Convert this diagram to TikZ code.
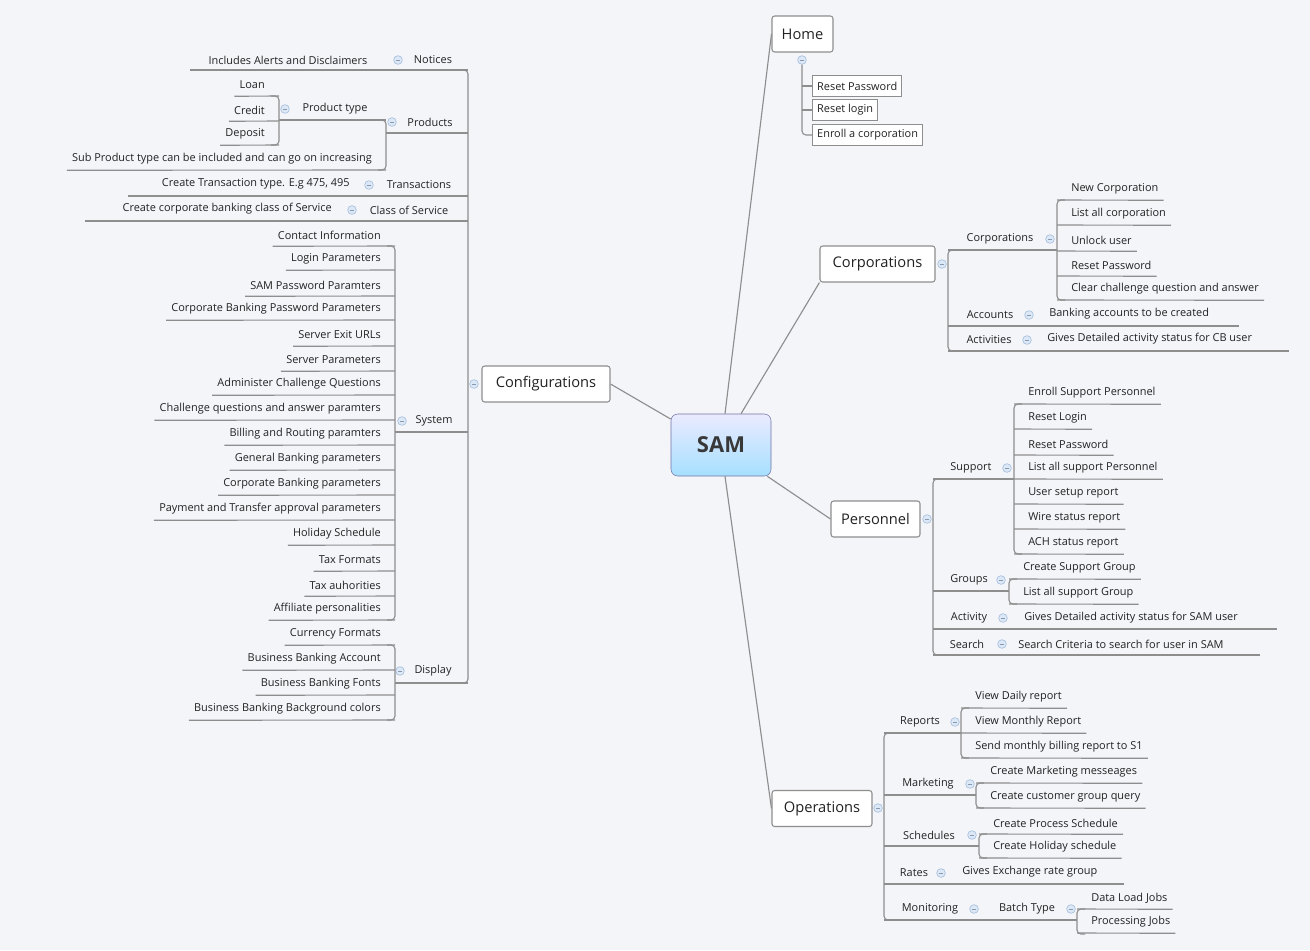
\documentclass[tikz,border=0pt]{standalone}
\usepackage{fontspec}
\setmainfont{Open Sans}
\definecolor{bg}{HTML}{F3F5F9}
\definecolor{lnc}{HTML}{8E8E8E}
\definecolor{txc}{HTML}{222222}
\definecolor{mkd}{HTML}{A9C0DE}
\definecolor{mkf}{HTML}{DDE8F6}
\tikzset{
  ln/.style={draw=lnc,line width=0.85pt},
  tx/.style={inner sep=0pt,text=txc,font=\fontsize{8.2}{10}\selectfont},
  lf/.style={inner xsep=3.75pt,inner ysep=0pt,minimum height=16.5pt,text=txc,font=\fontsize{8.2}{10}\selectfont},
  topic/.style={draw=lnc,fill=white,rounded corners=2pt,line width=0.8pt,minimum height=27pt,text=txc,font=\fontsize{11}{13}\selectfont,inner xsep=4pt},
  hb/.style={draw=lnc,fill=white,line width=0.8pt,minimum height=15.8pt,inner xsep=3.5pt,inner ysep=0pt,anchor=west,text=txc,font=\fontsize{8.2}{10}\selectfont},
  mk/.style={circle,draw=mkd,fill=mkf,minimum size=6.5pt,inner sep=0pt,line width=0.5pt,
    path picture={\draw[mkd!80!black,line width=0.5pt] ([xshift=-1.6pt]path picture bounding box.center) -- ([xshift=1.6pt]path picture bounding box.center);}}
}
\newcommand\lfR[4]{\node[lf,anchor=west] (#1) at ({#2+9},#3) {#4}; \draw[ln] ({#2},{#3+11}) -- (#1.south east);}
\newcommand\lfL[4]{\node[lf,anchor=east] (#1) at ({#2-9},#3) {#4}; \draw[ln] ({#2},{#3+11}) -- (#1.south west);}
\newcommand\brkR[3]{\draw[ln,rounded corners=3pt] ({#1+8},#2) -- (#1,#2) -- (#1,#3) -- ({#1+8},#3);}
\newcommand\brkL[3]{\draw[ln,rounded corners=3pt] ({#1-8},#2) -- (#1,#2) -- (#1,#3) -- ({#1-8},#3);}
\begin{document}
\begin{tikzpicture}[x=0.75pt,y=-0.75pt]
\fill[bg] (0,0) rectangle (1310,950);
\useasboundingbox (0,0) rectangle (1310,950);

% central
\node[draw=lnc!80!blue,rounded corners=5pt,top color=blue!8!white,bottom color=blue!35!cyan!35!white,minimum width=75pt,minimum height=46.5pt,font=\bfseries\fontsize{16.5}{19}\selectfont,text=txc!90] (sam) at (721,445) {SAM};

% topics
\node[topic,minimum width=45.75pt] (home) at (802.5,34) {Home};
\node[topic,minimum width=86.25pt] (corp) at (877.5,264) {Corporations};
\node[topic,minimum width=66.75pt] (pers) at (875.5,519) {Personnel};
\node[topic,minimum width=75pt] (ops) at (822,808.5) {Operations};
\node[topic,minimum width=96pt] (conf) at (546,384) {Configurations};

\draw[ln] ([xshift=3pt]sam.north) -- (home.west);
\draw[ln] ([xshift=15pt]sam.north) -- (corp.south west);
\draw[ln] ([xshift=-3pt]sam.south east) -- (pers.west);
\draw[ln] ([xshift=3pt]sam.south) -- (ops.west);
\draw[ln] ([yshift=-4pt]sam.north west) -- (conf.east);

% Home
\node[mk] (homem) at (802,60) {};
\node[hb] (h1) at (812,86) {Reset Password};
\node[hb] (h2) at (812,110) {Reset login};
\node[hb] (h3) at (812,135) {Enroll a corporation};
\draw[ln,rounded corners=3pt] (homem.south) -- (802,135) -- (h3.west);
\draw[ln] (802,86) -- (h1.west);
\draw[ln] (802,110) -- (h2.west);

% Corporations
\node[mk] (corpm) at (942,264) {};
\brkR{948}{250}{351}
\node[tx] (c1) at (1000,239) {Corporations};
\node[mk] (c1m) at (1050,239) {};
\draw[ln] (948,250) -- (1057,250);
\brkR{1057}{200}{300}
\lfR{c11}{1057}{189}{New Corporation}
\lfR{c12}{1057}{214}{List all corporation}
\lfR{c13}{1057}{240}{Unlock user}
\lfR{c14}{1057}{265}{Reset Password}
\lfR{c15}{1057}{289}{Clear challenge question and answer}
\node[tx] (c2) at (990,315) {Accounts};
\node[mk] (c2m) at (1029,315) {};
\node[tx,anchor=west] (c21) at (1049,314) {Banking accounts to be created};
\draw[ln] (948,326) -- (1239,326);
\node[tx] (c3) at (989,340) {Activities};
\node[mk] (c3m) at (1027,340) {};
\node[tx,anchor=west] (c31) at (1047,339) {Gives Detailed activity status for CB user};
\draw[ln] (948,351) -- (1289,351);

% Personnel
\node[mk] (persm) at (927,519) {};
\brkR{933}{479}{655}
\node[tx] (p1) at (971,468) {Support};
\node[mk] (p1m) at (1007,468) {};
\draw[ln] (933,479) -- (1014,479);
\brkR{1014}{404}{554}
\lfR{p11}{1014}{393}{Enroll Support Personnel}
\lfR{p12}{1014}{418}{Reset Login}
\lfR{p13}{1014}{444}{Reset Password}
\lfR{p14}{1014}{468}{List all support Personnel}
\lfR{p15}{1014}{493}{User setup report}
\lfR{p16}{1014}{518}{Wire status report}
\lfR{p17}{1014}{543}{ACH status report}
\node[tx] (p2) at (969,580) {Groups};
\node[mk] (p2m) at (1001,580) {};
\draw[ln] (933,591) -- (1009,591);
\brkR{1009}{579}{604}
\lfR{p21}{1009}{568}{Create Support Group}
\lfR{p22}{1009}{593}{List all support Group}
\node[tx] (p3) at (969,618) {Activity};
\node[mk] (p3m) at (1003,618) {};
\node[tx,anchor=west] (p31) at (1024,618) {Gives Detailed activity status for SAM user};
\draw[ln] (933,629) -- (1277,629);
\node[tx] (p4) at (967,644) {Search};
\node[mk] (p4m) at (1002,644) {};
\node[tx,anchor=west] (p41) at (1018,644) {Search Criteria to search for user in SAM};
\draw[ln] (933,655) -- (1260,655);

% Operations
\node[mk] (opsm) at (878,808) {};
\brkR{884}{733}{920}
\node[tx] (o1) at (920,722) {Reports};
\node[mk] (o1m) at (955,722) {};
\draw[ln] (884,733) -- (961,733);
\brkR{961}{708}{758}
\lfR{o11}{961}{697}{View Daily report}
\lfR{o12}{961}{722}{View Monthly Report}
\lfR{o13}{961}{747}{Send monthly billing report to S1}
\node[tx] (o2) at (928,784) {Marketing};
\node[mk] (o2m) at (970,784) {};
\draw[ln] (884,795) -- (976,795);
\brkR{976}{783}{808}
\lfR{o21}{976}{772}{Create Marketing messeages}
\lfR{o22}{976}{797}{Create customer group query}
\node[tx] (o3) at (929,835) {Schedules};
\node[mk] (o3m) at (972,835) {};
\draw[ln] (884,846) -- (979,846);
\brkR{979}{834}{858}
\lfR{o31}{979}{823}{Create Process Schedule}
\lfR{o32}{979}{847}{Create Holiday schedule}
\node[tx] (o4) at (914,873) {Rates};
\node[mk] (o4m) at (941,873) {};
\node[tx,anchor=west] (o41) at (962,872) {Gives Exchange rate group};
\draw[ln] (884,884) -- (1124,884);
\node[tx] (o5) at (930,909) {Monitoring};
\node[mk] (o5m) at (974,909) {};
\node[tx] (o51) at (1027,909) {Batch Type};
\node[mk] (o51m) at (1071,909) {};
\draw[ln] (884,920) -- (1077,920);
\brkR{1077}{909}{934}
\lfR{o511}{1077}{898}{Data Load Jobs}
\lfR{o512}{1077}{922}{Processing Jobs}

% Configurations
\node[mk] (confm) at (474,384) {};
\brkL{468}{70}{683}
\node[tx] (f1) at (433,60) {Notices};
\node[mk] (f1m) at (398,60) {};
\node[tx] (f11) at (288,60) {Includes Alerts and Disclaimers};
\draw[ln] (468,70) -- (190,70);
\node[tx] (f2) at (430,122) {Products};
\node[mk] (f2m) at (392,122) {};
\draw[ln] (468,133) -- (386,133);
\brkL{386}{120}{170}
\node[tx] (f21) at (335,109) {Product type};
\node[mk] (f21m) at (285,109) {};
\draw[ln] (386,120) -- (279,120);
\brkL{279}{96}{145}
\lfL{f211}{279}{85}{Loan}
\lfL{f212}{279}{110}{Credit}
\lfL{f213}{279}{134}{Deposit}
\lfL{f22}{386}{159}{Sub Product type can be included and can go on increasing}
\node[tx] (f3) at (419,185) {Transactions};
\node[mk] (f3m) at (369,185) {};
\node[tx,anchor=east] (f31) at (350,184) {Create Transaction type. E.g 475, 495};
\draw[ln] (468,196) -- (128,196);
\node[tx] (f4) at (409,210) {Class of Service};
\node[mk] (f4m) at (352,210) {};
\node[tx,anchor=east] (f41) at (332,209) {Create corporate banking class of Service};
\draw[ln] (468,221) -- (85,221);
\node[tx] (f5) at (434,421) {System};
\node[mk] (f5m) at (402,421) {};
\draw[ln] (468,432) -- (395,432);
\brkL{395}{246}{620}
\lfL{s1}{395}{235}{Contact Information}
\lfL{s2}{395}{259}{Login Parameters}
\lfL{s3}{395}{285}{SAM Password Paramters}
\lfL{s4}{395}{309}{Corporate Banking Password Parameters}
\lfL{s5}{395}{335}{Server Exit URLs}
\lfL{s6}{395}{360}{Server Parameters}
\lfL{s7}{395}{384}{Administer Challenge Questions}
\lfL{s8}{395}{409}{Challenge questions and answer paramters}
\lfL{s9}{395}{434}{Billing and Routing paramters}
\lfL{s10}{395}{459}{General Banking parameters}
\lfL{s11}{395}{484}{Corporate Banking parameters}
\lfL{s12}{395}{509}{Payment and Transfer approval parameters}
\lfL{s13}{395}{534}{Holiday Schedule}
\lfL{s14}{395}{560}{Tax Formats}
\lfL{s15}{395}{585}{Tax auhorities}
\lfL{s16}{395}{609}{Affiliate personalities}
\node[tx] (f6) at (433,671) {Display};
\node[mk] (f6m) at (400,671) {};
\draw[ln] (468,683) -- (395,683);
\brkL{395}{645}{720}
\lfL{d1}{395}{634}{Currency Formats}
\lfL{d2}{395}{659}{Business Banking Account}
\lfL{d3}{395}{684}{Business Banking Fonts}
\lfL{d4}{395}{709}{Business Banking Background colors}
\end{tikzpicture}
\end{document}
